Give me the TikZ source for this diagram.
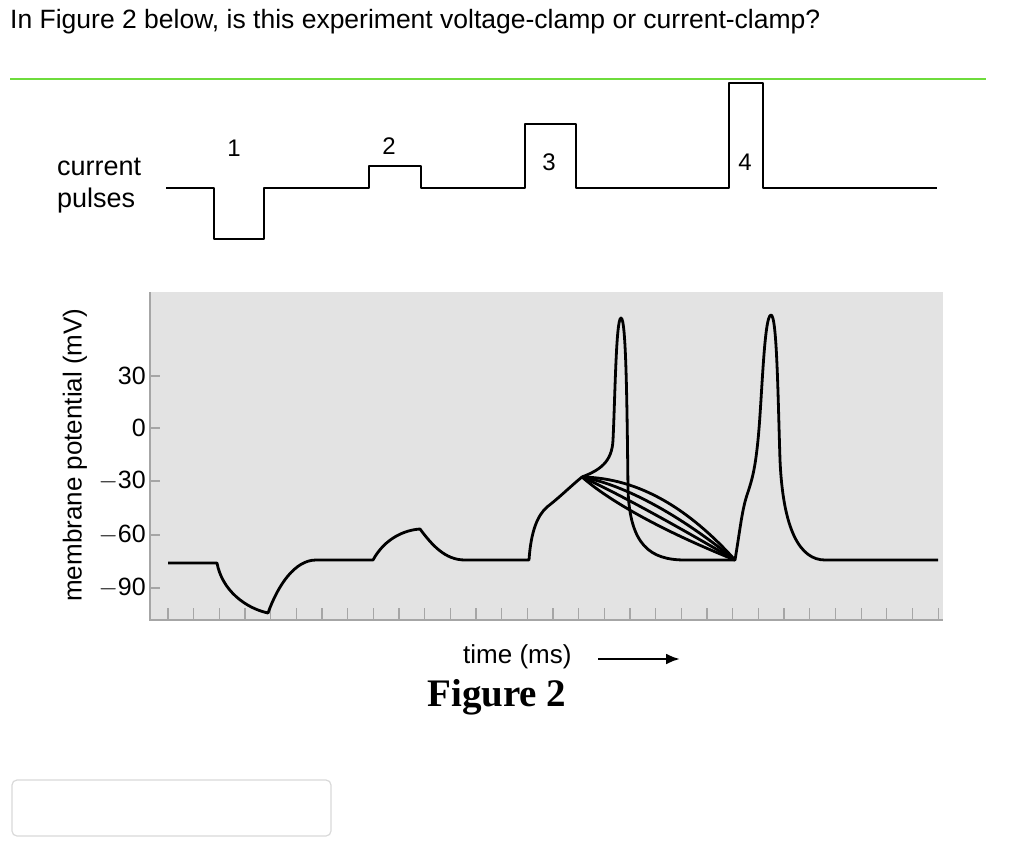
\documentclass[tikz,border=0pt]{standalone}
\usepackage{fontspec}
\usetikzlibrary{arrows.meta}
\setmainfont{Liberation Sans}
\newfontfamily\seriffont{Liberation Serif}
\begin{document}
\begin{tikzpicture}[x=1pt,y=-1pt,
  trace/.style={line width=2.8pt,line join=round},
  lbl/.style={font=\fontsize{27}{29}\selectfont,inner sep=0pt},
  tick/.style={draw=gray!70,line width=1.2pt}]
\useasboundingbox (0,0) rectangle (1024,845);
\node[anchor=west,font=\fontsize{26.5}{28}\selectfont,inner sep=0pt] (q) at (10,22) {In Figure 2 below, is this experiment voltage-clamp or current-clamp?};
\draw[line width=1.6pt,draw={rgb,255:red,110;green,220;blue,60}] (10,79) -- (986,79);
% current pulses
\node[lbl,anchor=west] (cur) at (57,167) {current};
\node[lbl,anchor=west] (pul) at (57,201) {pulses};
\draw[trace] (166,188) -- (214,188) -- (214,239) -- (264,239) -- (264,188) -- (369,188) -- (369,166) -- (421,166) -- (421,188) -- (525,188) -- (525,124) -- (576,124) -- (576,188) -- (729,188) -- (729,83) -- (763,83) -- (763,188) -- (937,188);
\node[lbl,font=\fontsize{24}{26}\selectfont] (n1) at (234,148) {1};
\node[lbl,font=\fontsize{24}{26}\selectfont] (n2) at (389,146) {2};
\node[lbl,font=\fontsize{24}{26}\selectfont] (n3) at (549,162) {3};
\node[lbl,font=\fontsize{24}{26}\selectfont] (n4) at (745,162) {4};
% panel
\fill[gray!22] (150,292) rectangle (943,620);
\draw[gray!70,line width=1.2pt] (150,292) -- (150,620) -- (943,620);
\foreach \i in {0,...,30} \draw[tick] ({168+\i*25.67},608) -- ({168+\i*25.67},620);
\foreach \y/\t in {376/30,428/0,481/{$-$30},535/{$-$60},588/{$-$90}} {
  \draw[tick] (150,\y) -- (160,\y);
  \node[lbl,anchor=east,font=\fontsize{25}{27}\selectfont] at (146,\y) {\t};
}
\node[lbl,rotate=90,font=\fontsize{26}{28}\selectfont] (ylab) at (75,455) {membrane potential (mV)};
% trace
\draw[trace] (168,563) -- (217,563) .. controls (222,590) and (245,608) .. (268,613)
  .. controls (278,585) and (295,560) .. (316,560) -- (373,560)
  .. controls (385,538) and (405,530) .. (420,529)
  .. controls (432,545) and (445,560) .. (465,560) -- (529,560)
  .. controls (531,530) and (538,515) .. (547,507)
  .. controls (560,497) and (572,485) .. (582,477)
  .. controls (600,470) and (612,462) .. (613,440)
  .. controls (615,400) and (616,318) .. (621,318)
  .. controls (626,318) and (627,400) .. (628,490)
  .. controls (630,545) and (650,560) .. (685,560) -- (735,560)
  .. controls (740,530) and (742,510) .. (747,495)
  .. controls (752,480) and (755,470) .. (758,440)
  .. controls (762,400) and (764,315) .. (771,315)
  .. controls (777,315) and (778,400) .. (780,460)
  .. controls (783,530) and (800,560) .. (825,560) -- (938,560);
\draw[trace] (582,477) .. controls (640,478) and (690,510) .. (735,560);
\draw[trace] (582,477) .. controls (625,485) and (680,515) .. (735,560);
\draw[trace] (582,477) .. controls (615,492) and (670,522) .. (735,560);
\draw[trace] (582,477) .. controls (608,500) and (660,530) .. (735,560);
% time
\node[lbl,anchor=west,font=\fontsize{26}{28}\selectfont] (time) at (463,657) {time (ms)};
\coordinate (ta) at (680,659);
\draw[line width=2.6pt,-{Latex[length=14pt,width=11pt]}] (598,659) -- (ta);
\node[font=\seriffont\bfseries\fontsize{39}{41}\selectfont,inner sep=0pt] (fig) at (497,697) {Figure 2};
\draw[gray!30,line width=1.2pt,rounded corners=5pt] (12,780) rectangle (331,836);
\end{tikzpicture}
\end{document}
